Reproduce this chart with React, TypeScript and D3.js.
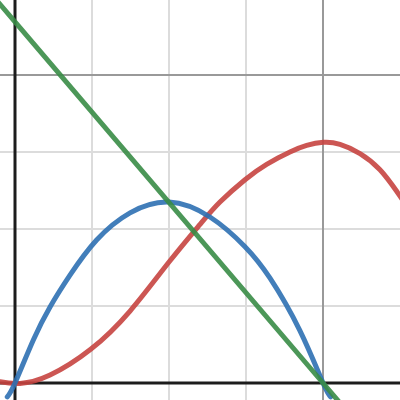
import React, { useEffect, useRef } from "react";
import * as d3 from "d3";

// curve samples (grid units)
const blueX = [-0.1, 0, 0.238, 0.455, 0.714, 1.06, 1.494, 2.0, 2.532, 2.987, 3.31, 3.7, 4.0, 4.1];
const blueY = [-0.18, 0, 0.558, 0.987, 1.4, 1.857, 2.21, 2.35, 2.156, 1.77, 1.364, 0.68, 0, -0.18];

const redX = [-0.3, -0.195, 0.065, 0.455, 0.983, 1.494, 2.0, 2.403, 2.662, 2.987, 3.268, 3.571, 3.788, 4.004, 4.221, 4.481, 4.74, 4.957, 5.1];
const redY = [0.04, 0.017, -0.005, 0.104, 0.438, 0.935, 1.571, 2.06, 2.35, 2.64, 2.84, 3.0, 3.085, 3.126, 3.1, 2.98, 2.77, 2.49, 2.28];

const greenX = [-0.4, 0, 4, 4.4];
const greenY = [5.16, 4.69, 0, -0.47];

const minorTicks = [1, 2, 3];
const majorTicks = [4];

const DrawGraph = (element: SVGSVGElement) => {
    const width = 400;
    const height = 400;

    const svg = d3.select(element);
    svg.selectAll("*").remove();

    const x = d3.scaleLinear().domain([-15 / 77, 385 / 77]).range([0, width]);
    const y = d3.scaleLinear().domain([-17 / 77, 383 / 77]).range([height, 0]);

    svg.append("rect").attr("width", width).attr("height", height).attr("fill", "#ffffff");

    // minor grid
    const grid = svg.append("g");
    minorTicks.forEach((t) => {
        grid.append("line")
            .attr("x1", x(t)).attr("x2", x(t)).attr("y1", 0).attr("y2", height)
            .attr("stroke", "#dcdcdc").attr("stroke-width", 2);
        grid.append("line")
            .attr("y1", y(t)).attr("y2", y(t)).attr("x1", 0).attr("x2", width)
            .attr("stroke", "#dcdcdc").attr("stroke-width", 2);
    });
    // major grid
    majorTicks.forEach((t) => {
        grid.append("line")
            .attr("x1", x(t)).attr("x2", x(t)).attr("y1", 0).attr("y2", height)
            .attr("stroke", "#999999").attr("stroke-width", 2);
        grid.append("line")
            .attr("y1", y(t)).attr("y2", y(t)).attr("x1", 0).attr("x2", width)
            .attr("stroke", "#999999").attr("stroke-width", 2);
    });

    // axes
    svg.append("line")
        .attr("x1", x(0)).attr("x2", x(0)).attr("y1", 0).attr("y2", height)
        .attr("stroke", "#1c1c1c").attr("stroke-width", 3);
    svg.append("line")
        .attr("y1", y(0)).attr("y2", y(0)).attr("x1", 0).attr("x2", width)
        .attr("stroke", "#1c1c1c").attr("stroke-width", 3);

    const series = [
        { xs: redX, ys: redY, color: "#c74440", curve: d3.curveNatural },
        { xs: blueX, ys: blueY, color: "#2d70b3", curve: d3.curveNatural },
        { xs: greenX, ys: greenY, color: "#388c46", curve: d3.curveLinear },
    ];

    series.forEach((s) => {
        const line = d3.line<[number, number]>()
            .x((d) => x(d[0]))
            .y((d) => y(d[1]))
            .curve(s.curve);
        const pts = s.xs.map((v, i) => [v, s.ys[i]] as [number, number]);
        svg.append("path")
            .attr("d", line(pts))
            .attr("fill", "none")
            .attr("stroke", s.color)
            .attr("stroke-opacity", 0.9)
            .attr("stroke-width", 5)
            .attr("stroke-linecap", "round")
            .attr("stroke-linejoin", "round");
    });
};

export default function App() {
    const ref = useRef<SVGSVGElement>(null);
    useEffect(() => {
        if (ref.current) DrawGraph(ref.current);
    }, []);
    return (
        <svg
            ref={ref}
            width={400}
            height={400}
            style={{ position: "fixed", left: 0, top: 0, display: "block" }}
        />
    );
}
